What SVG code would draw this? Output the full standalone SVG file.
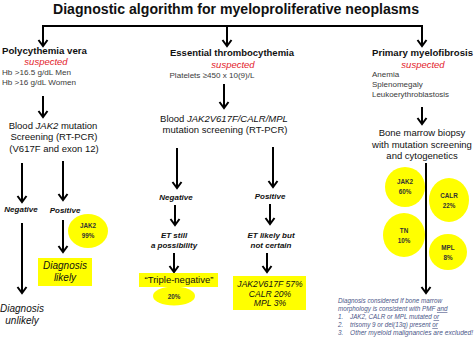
<svg xmlns="http://www.w3.org/2000/svg" width="474" height="339" viewBox="0 0 474 339">
<style>
text{font-family:"Liberation Sans",Arial,sans-serif;fill:#111}
.t{font-weight:bold;font-size:14.5px}
.h{font-weight:bold;font-size:9.5px}
.s{font-style:italic;fill:#e3222b;font-size:9.5px}
.g{fill:#3a3a3a;font-size:8px}
.b{font-size:9.5px}
.bi{font-weight:bold;font-style:italic;font-size:8px}
.i{font-style:italic;font-size:10px}
.i2{font-style:italic;font-size:8.6px}
.c{font-weight:bold;font-size:6.3px;fill:#333}
.n{font-style:italic;font-size:6.3px;fill:#4a5688}
.m{text-anchor:middle}
.y{fill:#ffff00}
.ln{stroke:#000;stroke-width:2;fill:none}
.ar{marker-end:url(#ah)}
</style>
<defs>
<marker id="ah" markerUnits="userSpaceOnUse" markerWidth="14" markerHeight="14" viewBox="-7 -7 14 14" refX="0" refY="0" orient="auto">
<path d="M-6,-4.5 L0,0 L-6,4.5" fill="none" stroke="#000" stroke-width="2"/>
</marker>
</defs>
<rect width="474" height="339" fill="#fff"/>
<g id="title"><text class="t m" x="236" y="14" textLength="366" lengthAdjust="spacingAndGlyphs">Diagnostic algorithm for myeloproliferative neoplasms</text></g>
<g id="connectors">
<path class="ln" d="M43,46 V26 H422 V46"/>
<path class="ln ar" d="M43,26 V46"/>
<path class="ln ar" d="M227,26 V46"/>
<path class="ln ar" d="M422,26 V46"/>
<path class="ln ar" d="M43,96 V117"/>
<path class="ln ar" d="M22,163 V202"/>
<path class="ln ar" d="M63,161 V200"/>
<path class="ln ar" d="M22,223 V293"/>
<path class="ln ar" d="M63,220 V252"/>
<path class="ln ar" d="M224,84 V108"/>
<path class="ln ar" d="M177,148 V188"/>
<path class="ln ar" d="M273,147 V187"/>
<path class="ln ar" d="M175,205 V225"/>
<path class="ln ar" d="M270,204 V224"/>
<path class="ln ar" d="M174,253 V272"/>
<path class="ln ar" d="M267,253 V272"/>
<path class="ln ar" d="M422,107 V124"/>
<path class="ln ar" d="M426,163 V293"/>
</g>
<g id="pv">
<text class="h" x="2" y="54" textLength="85" lengthAdjust="spacingAndGlyphs">Polycythemia vera</text>
<text class="s m" x="46" y="65">suspected</text>
<text class="g" x="2" y="75" textLength="69" lengthAdjust="spacingAndGlyphs">Hb &gt;16.5 g/dL Men</text>
<text class="g" x="2" y="85" textLength="74" lengthAdjust="spacingAndGlyphs">Hb &gt;16 g/dL Women</text>
</g>
<g id="pv-screen">
<text class="b m" x="53" y="129">Blood <tspan font-style="italic">JAK2</tspan> mutation</text>
<text class="b m" x="54" y="140">Screening (RT-PCR)</text>
<text class="b m" x="54" y="152">(V617F and exon 12)</text>
</g>
<g id="pv-neg"><text class="bi m" x="21" y="212">Negative</text></g>
<g id="pv-pos"><text class="bi m" x="65" y="213">Positive</text></g>
<g id="pv-jak2">
<ellipse class="y" cx="88" cy="231" rx="20" ry="17"/>
<text class="c m" x="88" y="228">JAK2</text>
<text class="c m" x="88" y="238">99%</text>
</g>
<g id="pv-likely">
<rect class="y" x="38" y="258" width="54" height="28"/>
<text class="i m" x="65" y="269">Diagnosis</text>
<text class="i m" x="65" y="281">likely</text>
</g>
<g id="pv-unlikely">
<text class="i m" x="22" y="312">Diagnosis</text>
<text class="i m" x="22" y="324">unlikely</text>
</g>
<g id="et">
<text class="h m" x="232" y="56" textLength="124" lengthAdjust="spacingAndGlyphs">Essential thrombocythemia</text>
<text class="s m" x="233" y="68">suspected</text>
<text class="g m" x="212" y="78" textLength="85" lengthAdjust="spacingAndGlyphs">Platelets ≥450 x 10(9)/L</text>
</g>
<g id="et-screen">
<text class="b m" x="224" y="122">Blood <tspan font-style="italic">JAK2V617F/CALR/MPL</tspan></text>
<text class="b m" x="225" y="133" textLength="125" lengthAdjust="spacing">mutation screening (RT-PCR)</text>
</g>
<g id="et-neg"><text class="bi m" x="176" y="200">Negative</text></g>
<g id="et-pos"><text class="bi m" x="270" y="199">Positive</text></g>
<g id="et-still">
<text class="bi m" x="174" y="238">ET still</text>
<text class="bi m" x="174" y="248">a possibility</text>
</g>
<g id="et-likely">
<text class="bi m" x="271" y="238">ET likely but</text>
<text class="bi m" x="271" y="248">not certain</text>
</g>
<g id="et-tn">
<rect class="y" x="139" y="273" width="79" height="14"/>
<ellipse class="y" cx="174" cy="296" rx="21" ry="9.5"/>
<text class="b m" x="179" y="283">“Triple-negative”</text>
<text class="c m" x="174" y="298.5">20%</text>
</g>
<g id="et-mut">
<rect class="y" x="233" y="276" width="73" height="34"/>
<text class="i2 m" x="270" y="287">JAK2V617F 57%</text>
<text class="i2 m" x="270" y="296.5">CALR 20%</text>
<text class="i2 m" x="270" y="306">MPL 3%</text>
</g>
<g id="pmf">
<text class="h" x="372" y="56" textLength="101" lengthAdjust="spacingAndGlyphs">Primary myelofibrosis</text>
<text class="s m" x="423" y="68">suspected</text>
<text class="g" x="372" y="77">Anemia</text>
<text class="g" x="372" y="87">Splenomegaly</text>
<text class="g" x="372" y="97" textLength="77" lengthAdjust="spacingAndGlyphs">Leukoerythroblastosis</text>
</g>
<g id="pmf-biopsy">
<text class="b m" x="422" y="136">Bone marrow biopsy</text>
<text class="b m" x="422" y="148">with mutation screening</text>
<text class="b m" x="422" y="159">and cytogenetics</text>
</g>
<g id="pmf-jak2">
<ellipse class="y" cx="405" cy="187" rx="20" ry="20"/>
<text class="c m" x="405" y="184">JAK2</text>
<text class="c m" x="405" y="194">60%</text>
</g>
<g id="pmf-calr">
<ellipse class="y" cx="449" cy="200" rx="20" ry="22"/>
<text class="c m" x="449" y="198">CALR</text>
<text class="c m" x="449" y="208">22%</text>
</g>
<g id="pmf-tn">
<ellipse class="y" cx="404" cy="235" rx="21" ry="22"/>
<text class="c m" x="404" y="233">TN</text>
<text class="c m" x="404" y="243">10%</text>
</g>
<g id="pmf-mpl">
<ellipse class="y" cx="448" cy="252" rx="19" ry="18"/>
<text class="c m" x="448" y="250">MPL</text>
<text class="c m" x="448" y="260">8%</text>
</g>
<g id="pmf-note">
<text class="n" x="338" y="303">Diagnosis considered If bone marrow</text>
<text class="n" x="338" y="311">morphology  is consistent with PMF <tspan text-decoration="underline">and</tspan></text>
<text class="n" x="338" y="319">1.</text><text class="n" x="350" y="319">JAK2, CALR or MPL mutated <tspan text-decoration="underline">or</tspan></text>
<text class="n" x="338" y="327">2.</text><text class="n" x="350" y="327">trisomy 9 or del(13q) present <tspan text-decoration="underline">or</tspan></text>
<text class="n" x="338" y="335">3.</text><text class="n" x="350" y="335" textLength="123" lengthAdjust="spacingAndGlyphs">Other myeloid malignancies are excluded!</text>
</g>
</svg>
